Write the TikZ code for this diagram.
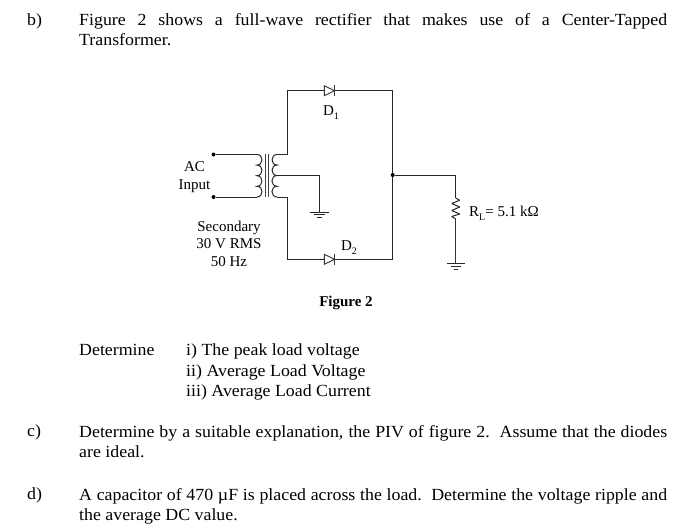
\documentclass[tikz,border=0pt]{standalone}
\usepackage{fontspec}
\setmainfont{Liberation Serif}
\newfontfamily\widefont[FakeStretch=1.05]{Liberation Serif}
\newcommand{\lowsub}[1]{\raisebox{-4pt}{\fontsize{10}{10}\selectfont #1}}
\begin{document}
\begin{tikzpicture}[x=1pt,y=-1pt,
  wire/.style={line width=1pt,black!85},
  thin wire/.style={line width=0.9pt,black!80},
  coil/.style={out=#1,in=#1,looseness=1.6},
  body/.style={anchor=base west,inner sep=0pt,font=\widefont\fontsize{17}{18}\selectfont,text=black},
  small/.style={anchor=base,inner sep=0pt,font=\fontsize{15}{16}\selectfont,text=black},
  jdot/.style={circle,fill=black,inner sep=0pt,minimum size=4pt}]
\useasboundingbox (0,0) rectangle (693,531);
\fill[white] (0,0) rectangle (693,531);
% text
\node[body] (b) at (27,25) {b)};
\node[body] (l1) at (79,25) {\makebox[588pt][s]{Figure 2 shows a full-wave rectifier that makes use of a Center-Tapped}};
\node[body] (l2) at (79,45) {Transformer.};
\node[body] (det) at (79,355) {Determine};
\node[body] (i1) at (186,355) {i) The peak load voltage};
\node[body] (i2) at (186,376) {ii) Average Load Voltage};
\node[body] (i3) at (186,396) {iii) Average Load Current};
\node[body] (c) at (27,436) {c)};
\node[body] (c1) at (79,437) {\makebox[588pt][s]{Determine by a suitable explanation, the PIV of figure 2.\ \ Assume that the diodes}};
\node[body] (c2) at (79,457) {are ideal.};
\node[body] (d) at (27,499) {d)};
\node[body] (d1) at (79,500) {\makebox[588pt][s]{A capacitor of 470 µF is placed across the load.\ \ Determine the voltage ripple and}};
\node[body] (d2) at (79,520) {the average DC value.};
\node[small,font=\fontsize{15}{16}\selectfont\bfseries] (fig) at (346,306) {Figure 2};
% diagram labels
\node[small] (ac) at (194.5,171) {AC};
\node[small] (inp) at (194.5,189) {Input};
\node[small] (sec) at (229,231) {Secondary};
\node[small] (rms) at (229,248) {30 V RMS};
\node[small] (hz) at (229,266) {50 Hz};
\node[small] (d1l) at (331,115) {D\lowsub{1}};
\node[small] (d2l) at (349,250) {D\lowsub{2}};
\node[small,anchor=base west] (rl) at (469,216) {R\lowsub{L}= 5.1 kΩ};
% nodes
\node[jdot] (p1) at (213.5,154.5) {};
\node[jdot] (p2) at (213.5,197) {};
\node[jdot] (j) at (392.7,175) {};
\coordinate (ps1) at (257,154.5);
\coordinate (ps2) at (257,197);
\coordinate (st) at (277,154.5);
\coordinate (sm) at (277,175.5);
\coordinate (sb) at (277,197);
\coordinate (tl) at (287.3,154.5);
\coordinate (tc) at (287.3,90.7);
\coordinate (tr) at (392.7,90.7);
\coordinate (bl) at (287.3,197);
\coordinate (bc) at (287.3,259.3);
\coordinate (br) at (392.7,259.3);
\coordinate (g1) at (319,175.5);
\coordinate (g2) at (319,212);
\coordinate (rc) at (455.7,175);
\coordinate (r1) at (455.7,198);
\coordinate (r2) at (455.7,219);
\coordinate (g3) at (455.7,263.5);
% wires
\draw[wire] (p1) -- (ps1);
\draw[wire] (p2) -- (ps2);
\draw[wire] (st) -- (tl) -- (tc) -- (tr) -- (j) -- (br) -- (bc) -- (bl) -- (sb);
\draw[wire] (sm) -- (g1) -- (g2);
\draw[wire] (j) -- (rc) -- (r1);
\draw[thin wire] (r2) -- (g3);
% coils
\draw[wire] (ps1) to[coil=0] ++(0,10.6) to[coil=0] ++(0,10.6)
  to[coil=0] ++(0,10.6) to[coil=0] (ps2);
\draw[wire] (st) to[coil=180] ++(0,10.5) to[coil=180] (sm)
  to[coil=180] ++(0,10.75) to[coil=180] (sb);
\draw[line width=0.8pt,black!75] (265,153.5) -- (265,197) (268.7,153.5) -- (268.7,197);
% diodes
\draw[thin wire,fill=white] (324.3,85.7) -- (334.5,90.7) -- (324.3,95.7) -- cycle;
\draw[thin wire] (334.8,85.4) -- (334.8,96);
\draw[thin wire,fill=white] (324.3,254.3) -- (334.5,259.3) -- (324.3,264.3) -- cycle;
\draw[thin wire] (334.8,254) -- (334.8,264.6);
% resistor
\draw[wire,line join=bevel] (r1) -- (459.7,200.2) -- (451.7,203.5) -- (459.7,207) -- (451.7,210.5) -- (459.7,214) -- (451.7,216.5) -- (r2);
% grounds
\draw[wire] (309.5,212) -- (328.5,212);
\draw[wire] (313.5,214.8) -- (324.5,214.8);
\draw[wire] (316.5,217.3) -- (321.5,217.3);
\draw[wire] (447,263.5) -- (464.5,263.5);
\draw[wire] (451,266.5) -- (460.5,266.5);
\draw[wire] (453.5,269.5) -- (458,269.5);
\end{tikzpicture}
\end{document}
